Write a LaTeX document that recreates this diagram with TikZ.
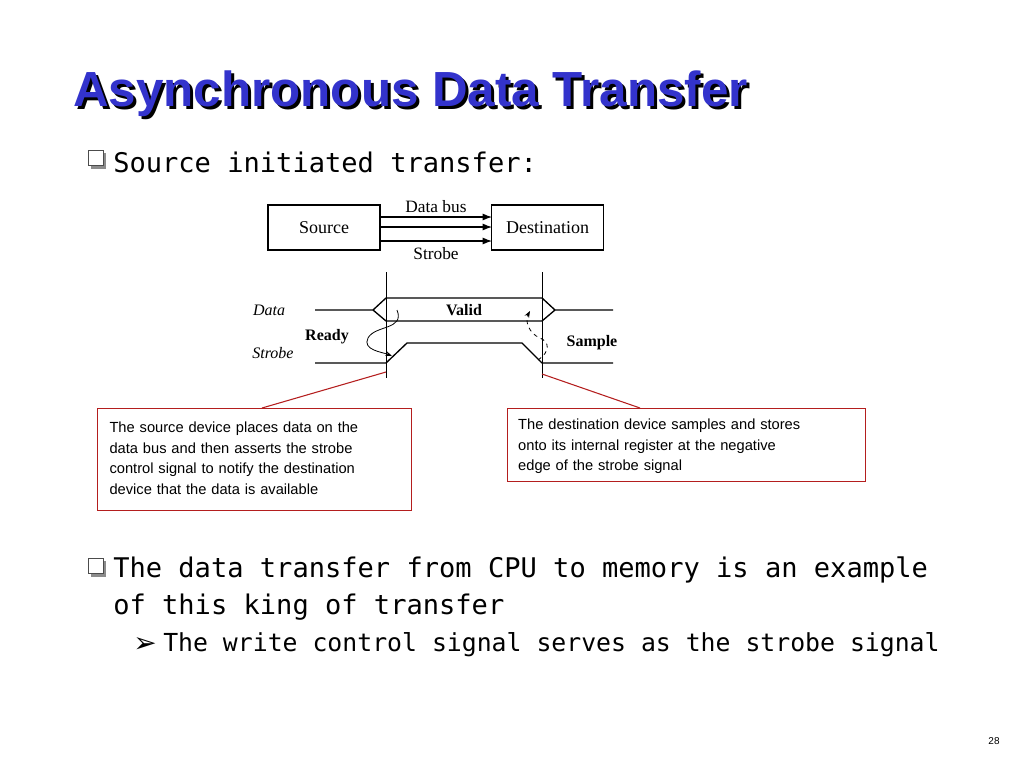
\documentclass[tikz,border=0pt]{standalone}
\usepackage{fontspec}
\setmainfont{Liberation Serif}
\newfontfamily\arial{Liberation Sans}
\newfontfamily\mono{DejaVu Sans Mono}
\newfontfamily\dvs{DejaVu Sans}
\usetikzlibrary{arrows.meta}
\definecolor{tblue}{RGB}{51,51,204}
\definecolor{cred}{RGB}{180,30,30}
\begin{document}
\begin{tikzpicture}[x=0.75pt,y=-0.75pt,
  blk/.style={draw,line width=1.3pt,minimum width=84pt,minimum height=34pt,font=\fontsize{13.5}{15}\selectfont},
  lbl/.style={font=\fontsize{13}{15}\selectfont,inner sep=0},
  lblb/.style={font=\fontsize{12}{14}\selectfont\bfseries,inner sep=0},
  sig/.style={line width=1pt},
  callout/.style={draw=cred,line width=0.8pt,align=left,anchor=north west,inner sep=0,text width=#1,font=\arial\fontsize{11}{15.3}\selectfont},
  bul/.style={font=\mono\fontsize{20.3}{28}\selectfont,anchor=west,inner sep=0},
  bulbox/.style={draw=black!70,fill=white,minimum size=11pt,inner sep=0,line width=0.6pt}
  ]
\useasboundingbox (0,0) rectangle (1024,768);
% title
\node[anchor=west,inner sep=0,text=black,font=\arial\bfseries\fontsize{37}{40}\selectfont] (tsh) at (76,97) {Asynchronous Data Transfer};
\node[anchor=west,inner sep=0,text=tblue,font=\arial\bfseries\fontsize{37}{40}\selectfont] (title) at (73,94) {Asynchronous Data Transfer};
% bullet 1
\fill[black!45] (91,153) rectangle (106,169);
\node[bulbox,anchor=north west] (b1) at (88,150) {};
\node[bul] (t1) at (113,162) {Source initiated transfer:};
% block diagram
\node[blk] (src) at (324,227.5) {Source};
\node[blk] (dst) at (547.5,227.5) {Destination};
\draw[-{Latex[length=7pt]},line width=0.8pt] (380,217) -- (492,217);
\draw[-{Latex[length=7pt]},line width=0.8pt] (380,227) -- (492,227);
\draw[-{Latex[length=7pt]},line width=0.8pt] (380,241) -- (492,241);
\node[lbl] (db) at (436,207) {Data bus};
\node[lbl] (sb) at (436,254) {Strobe};
% timing
\draw[line width=0.7pt] (386,272) -- (386,378);
\draw[line width=0.7pt] (542,272) -- (542,378);
\draw[sig] (315,310) -- (373,310) -- (386,298) -- (542,298) -- (555,310) -- (613,310);
\draw[sig] (373,310) -- (386,321) -- (542,321) -- (555,310);
\node[lblb] (valid) at (464,310) {Valid};
\draw[sig] (315,363) -- (386,363) -- (407,343) -- (522,343) -- (542,363) -- (613,363);
\node[lbl,font=\itshape\fontsize{12}{14}\selectfont] (dl) at (269,310) {Data};
\node[lbl,font=\itshape\fontsize{12}{14}\selectfont] (sl) at (273,353) {Strobe};
\node[lblb] (rl) at (327,337) {Ready};
\node[lblb] (sml) at (592,343) {Sample};
\draw[-{Stealth[length=5pt]},line width=0.6pt] (397,310) .. controls (405,330) and (375,325) .. (368,338) .. controls (362,350) and (382,352) .. (392,356);
\draw[-{Stealth[length=5pt]},dashed,line width=0.6pt] (538,360) .. controls (550,352) and (550,342) .. (540,338) .. controls (528,333) and (525,320) .. (530,311);
% callouts
\draw[cred,line width=0.8pt] (386,372) -- (262,408);
\draw[cred,line width=0.8pt] (542,374) -- (640,408);
\node[callout=235.5pt,minimum height=76.5pt] (c1) at (97,408) {\hspace*{9pt}\parbox[t]{225pt}{\vspace*{-2pt}The source device places data on the\\ data bus and then asserts the strobe\\ control signal to notify the destination\\ device that the data is available}};
\node[callout=268.5pt,minimum height=54.75pt] (c2) at (507,408) {\hspace*{8pt}\parbox[t]{260pt}{\vspace*{2pt}The destination device samples and stores\\ onto its internal register at the negative\\ edge of the strobe signal}};
% bullet 2
\fill[black!45] (91,561) rectangle (106,577);
\node[bulbox,anchor=north west] (b2) at (88,558) {};
\node[bul] (t2) at (113,570) {The data transfer from CPU to memory is an example};
\node[bul] (t3) at (113,607) {of this king of transfer};
\node[anchor=west,inner sep=0,font=\dvs\bfseries\fontsize{21}{22}\selectfont] (ar) at (133,645) {➢};
\node[anchor=west,inner sep=0,font=\mono\fontsize{18.6}{22}\selectfont] (t4) at (163,645) {The write control signal serves as the strobe signal};
\node[inner sep=0,font=\arial\fontsize{7.5}{9}\selectfont] (pg) at (994,741) {28};
\end{tikzpicture}
\end{document}
